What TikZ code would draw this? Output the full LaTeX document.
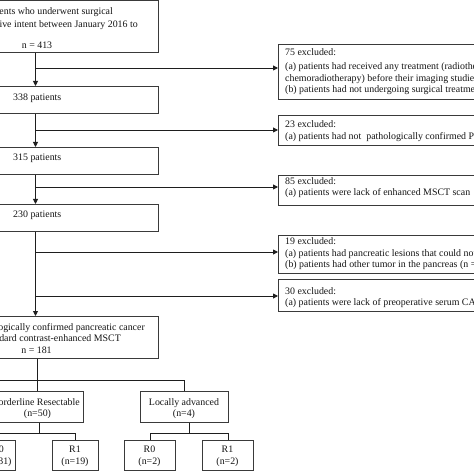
\documentclass[tikz,border=0pt]{standalone}
\usepackage{fontspec}
\setmainfont{Liberation Serif}
\usetikzlibrary{arrows.meta}
\definecolor{boxc}{HTML}{3A3A3A}
\definecolor{linec}{HTML}{1E1E1E}
\definecolor{txtc}{HTML}{151515}
\tikzset{
  box/.style={draw=boxc, line width=0.9bp, inner sep=0, anchor=north west},
  lbl/.style={inner sep=0, anchor=base west, text=txtc, font=\fontsize{9.9bp}{11.5bp}\selectfont},
  lble/.style={lbl, anchor=base east},
  lblc/.style={lbl, anchor=base},
  conn/.style={draw=linec, line width=0.9bp},
  arr/.style={conn, -{Triangle[length=5bp,width=5bp]}}
}
\begin{document}
\begin{tikzpicture}[x=1bp,y=-1bp]
\useasboundingbox (0,0) rectangle (474,474);
\clip (0,0) rectangle (474,474);
\fill[white] (0,0) rectangle (474,474);
% left column boxes
\node[box, minimum width=258bp, minimum height=51.5bp] (top) at (-100,0.5) {};
\node[box, minimum width=258bp, minimum height=27bp] (b338) at (-100,86) {};
\node[box, minimum width=258bp, minimum height=27bp] (b315) at (-100,147) {};
\node[box, minimum width=258bp, minimum height=27bp] (b230) at (-100,204) {};
\node[box, minimum width=258bp, minimum height=42bp] (final) at (-100,316) {};
\node[box, minimum width=183bp, minimum height=31bp] (border) at (-100,391) {};
\node[box, minimum width=88bp, minimum height=31bp] (local) at (140,391) {};
\node[box, minimum width=115bp, minimum height=30bp] (r0a) at (-100,440) {};
\node[box, minimum width=46bp, minimum height=30bp] (r1a) at (52,440) {};
\node[box, minimum width=51bp, minimum height=30bp] (r0b) at (124,440) {};
\node[box, minimum width=51bp, minimum height=30bp] (r1b) at (202,440) {};
% exclusion boxes
\node[box, minimum width=230bp, minimum height=55bp] (e75) at (278,44) {};
\node[box, minimum width=230bp, minimum height=30bp] (e23) at (278,115) {};
\node[box, minimum width=230bp, minimum height=30bp] (e85) at (278,175) {};
\node[box, minimum width=230bp, minimum height=38bp] (e19) at (278,235) {};
\node[box, minimum width=230bp, minimum height=32bp] (e30) at (278,279) {};
% texts left column
\node[lble] (t1) at (113,14.5) {ents who underwent surgical};
\node[lble] (t2) at (138,27.5) {ive intent between January 2016 to};
\node[lblc] (t3) at (37,48.5) {n = 413};
\node[lbl] (t4) at (13,100.5) {338 patients};
\node[lbl] (t5) at (13,160.5) {315 patients};
\node[lbl] (t6) at (13,218) {230 patients};
\node[lble] (t7) at (145,330.5) {ogically confirmed pancreatic cancer};
\node[lble] (t8) at (121,341.5) {ndard contrast-enhanced MSCT};
\node[lblc] (t9) at (36.5,353) {n = 181};
\node[lble] (t10) at (80,405.5) {orderline Resectable};
\node[lblc] (t11) at (37.5,416.5) {(n=50)};
\node[lblc] (t12) at (184,405.5) {Locally advanced};
\node[lblc] (t13) at (184,416.5) {(n=4)};
\node[lblc] (t14) at (-2,452.5) {R0};
\node[lblc] (t15) at (-2,464) {(n=31)};
\node[lblc] (t16) at (75,452.5) {R1};
\node[lblc] (t17) at (75,464) {(n=19)};
\node[lblc] (t18) at (149.5,452.5) {R0};
\node[lblc] (t19) at (149.5,464) {(n=2)};
\node[lblc] (t20) at (227.5,452.5) {R1};
\node[lblc] (t21) at (227.5,464) {(n=2)};
% texts exclusion boxes
\node[lbl] (u1) at (285,55.5) {75 excluded:};
\node[lbl] (u2) at (285,70) {(a) patients had received any treatment (radiotherapy, chemotherapy or};
\node[lbl] (u3) at (285,81.5) {chemoradiotherapy) before their imaging studies;};
\node[lbl] (u4) at (285,93) {(b) patients had not undergoing surgical treatment.};
\node[lbl] (u5) at (285,128) {23 excluded:};
\node[lbl] (u6) at (285,139.5) {(a) patients had not~ pathologically confirmed PDAC.};
\node[lbl] (u7) at (285,184.5) {85 excluded:};
\node[lbl] (u8) at (285,196) {(a) patients were lack of enhanced MSCT scan};
\node[lbl] (u9) at (285,244.5) {19 excluded:};
\node[lbl] (u10) at (285,256.5) {(a) patients had pancreatic lesions that could not};
\node[lbl] (u11) at (285,267) {(b) patients had other tumor in the pancreas (n =};
\node[lbl] (u12) at (285,294.5) {30 excluded:};
\node[lbl] (u13) at (285,305) {(a) patients were lack of preoperative serum CA};
% trunk
\coordinate (tx) at (35.5,0);
\coordinate (j1) at (35.5,68);
\coordinate (j2) at (35.5,130);
\coordinate (j3) at (35.5,187);
\coordinate (j4) at (35.5,252);
\coordinate (j5) at (35.5,296);
\draw[arr] (top.south -| tx) -- (b338.north -| tx);
\draw[arr] (b338.south -| tx) -- (b315.north -| tx);
\draw[arr] (b315.south -| tx) -- (b230.north -| tx);
\draw[arr] (b230.south -| tx) -- (final.north -| tx);
\draw[arr] (j1) -- (j1 -| e75.west);
\draw[arr] (j2) -- (j2 -| e23.west);
\draw[arr] (j3) -- (j3 -| e85.west);
\draw[arr] (j4) -- (j4 -| e19.west);
\draw[arr] (j5) -- (j5 -| e30.west);
% lower tree
\coordinate (bx) at (37.5,380);
\coordinate (h1L) at (-5,380);
\draw[conn] (final.south -| bx) -- (border.north -| bx);
\draw[conn] (h1L) -- (h1L -| local.north) -- (local.north);
\coordinate (h2) at (39,433);
\coordinate (h2L) at (-5,433);
\draw[conn] (border.south -| h2) -- (h2);
\draw[conn] (h2L) -- (h2L -| r1a.north) -- (r1a.north);
\coordinate (h3) at (189,433);
\draw[conn] (local.south -| h3) -- (h3);
\draw[conn] (r0b.north) -- (r0b.north |- h3) -- (r1b.north |- h3) -- (r1b.north);
\end{tikzpicture}
\end{document}
